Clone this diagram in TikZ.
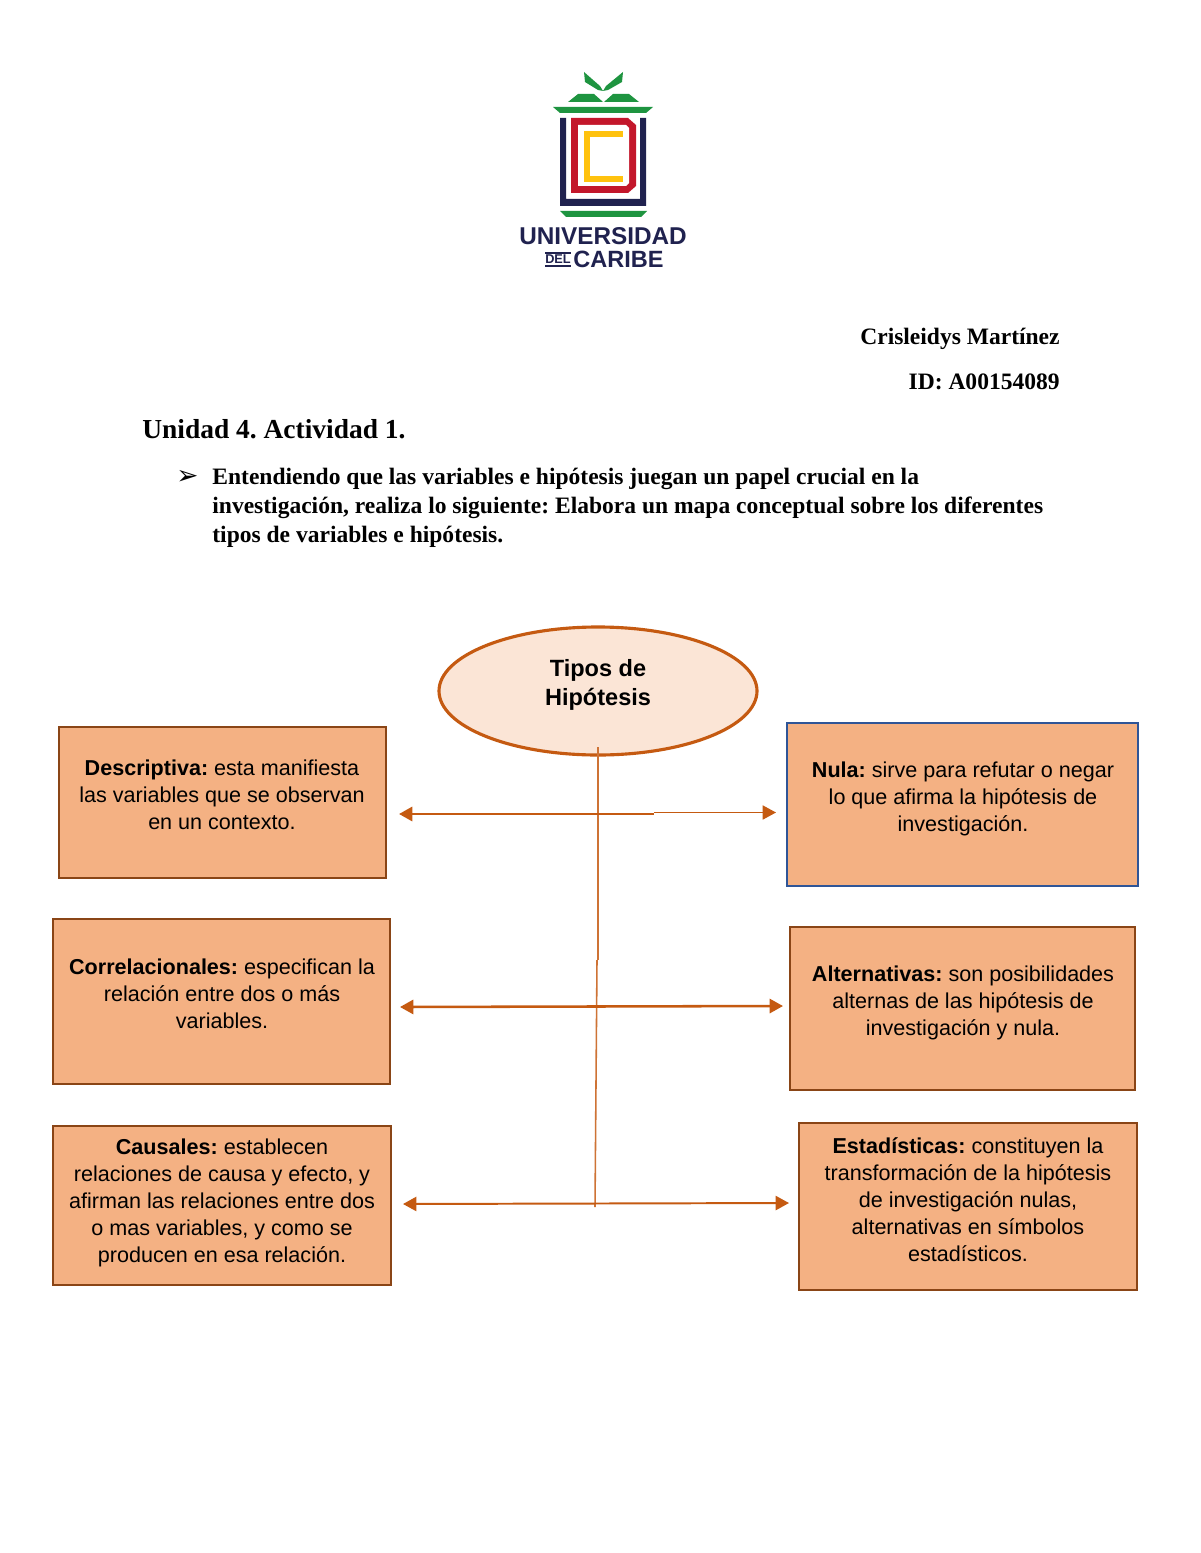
\documentclass[tikz,border=0pt]{standalone}
\usepackage{fontspec}
\setmainfont{Liberation Serif}
\setsansfont{Liberation Sans}
\newfontfamily\symfont{DejaVu Sans}
\usetikzlibrary{arrows.meta}
\AtBeginDocument{\frenchspacing}
\definecolor{boxfill}{HTML}{F4B183}
\definecolor{ellfill}{HTML}{FBE5D6}
\definecolor{orangeline}{HTML}{C55A11}
\definecolor{boxline}{HTML}{8A4516}
\definecolor{blueline}{HTML}{2F5597}
\definecolor{uninavy}{HTML}{20224F}
\definecolor{unigreen}{HTML}{1E9440}
\definecolor{unired}{HTML}{C3172B}
\definecolor{uniyellow}{HTML}{FFC20E}
\tikzset{
  x=0.51pt,y=-0.51pt,
  boxbase/.style={draw=boxline,fill=boxfill,line width=1.5pt,inner sep=0pt,outer sep=0pt},
  boxtext/.style={font=\sffamily\fontsize{11}{13.8}\selectfont,align=center,inner sep=0pt,text=black},
  serifline/.style={font=\bfseries\fontsize{12}{12}\selectfont,anchor=base west,inner sep=0pt},
  serifright/.style={font=\bfseries\fontsize{12}{12}\selectfont,anchor=base east,inner sep=0pt},
  trunk/.style={draw=orangeline!85!white,line width=0.8pt},
  link/.style={draw=orangeline,line width=1.3pt,{Triangle[length=6.8pt,width=7.2pt]}-{Triangle[length=6.8pt,width=7.2pt]}},
  linkthick/.style={draw=orangeline,line width=1.4pt,{Triangle[length=6.8pt,width=7.2pt]}-},
  linkthin/.style={draw=orangeline,line width=0.7pt,-{Triangle[length=6.8pt,width=7.2pt]}},
  logotext/.style={font=\sffamily\bfseries,text=uninavy,inner sep=0pt},
}
\newcommand{\boxat}[6]{%
  \node[boxbase,#6,anchor=north west,minimum width={(#3-#1)*0.51pt},minimum height={(#4-#2)*0.51pt}] (#5) at (#1,#2) {};}
\begin{document}
\begin{tikzpicture}
\useasboundingbox (0,0) rectangle (1200,1553);
\fill[white] (0,0) rectangle (1200,1553);
% logo
\fill[unigreen] (584,72) -- (600,86) -- (603,91) -- (598,90) -- (585,82) -- cycle;
\fill[unigreen] (623,72) -- (606,86) -- (603,91) -- (608,90) -- (622,82) -- cycle;
\fill[unigreen] (568,102) -- (578,94) -- (594,94) -- (603,102) -- cycle;
\fill[unigreen] (604,102) -- (613,94) -- (629,94) -- (639,102) -- cycle;
\fill[unigreen] (553,107) -- (653,107) -- (646,113) -- (560,113) -- cycle;
\fill[unigreen] (560,211) -- (647,211) -- (641,217) -- (566,217) -- cycle;
\fill[uninavy] (560,118) -- (566,118) -- (566,199) -- (640,199) -- (640,118) -- (646,118) -- (646,206) -- (560,206) -- cycle;
\fill[unired] (571,118) -- (628,118) -- (636,125) -- (636,186) -- (628,193) -- (571,193) -- cycle;
\fill[white] (578,125) -- (626,125) -- (629,128) -- (629,183) -- (626,186) -- (578,186) -- cycle;
\fill[uniyellow] (584,131) rectangle (623,137);
\fill[uniyellow] (584,131) rectangle (590,182);
\fill[uniyellow] (584,176) rectangle (623,182);
\node[logotext,font=\sffamily\bfseries\fontsize{12.4}{14}\selectfont] (uni) at (603,236) {UNIVERSIDAD};
\node[logotext,font=\sffamily\bfseries\fontsize{6.5}{7}\selectfont] (del) at (558,259) {DEL};
\node[logotext,font=\sffamily\bfseries\fontsize{12}{14}\selectfont,anchor=west] (car) at (573,259) {CARIBE};
\fill[uninavy] (545,265) rectangle (571,267);
\fill[uninavy] (545,252) rectangle (571,253.5);
% header
\node[serifright] (name) at (1060,344) {Crisleidys Martínez};
\node[serifright] (id) at (1060,389) {ID: A00154089};
\node[serifline,font=\bfseries\fontsize{14}{14}\selectfont] (title) at (142,438) {Unidad 4. Actividad 1.};
\node[anchor=base west,inner sep=0pt,font=\symfont\bfseries\fontsize{13.5}{13.5}\selectfont] (bullet) at (176,484) {➢};
\node[serifline] (l1) at (212,484) {Entendiendo que las variables e hipótesis juegan un papel crucial en la};
\node[serifline] (l2) at (212,513) {investigación, realiza lo siguiente: Elabora un mapa conceptual sobre los diferentes};
\node[serifline] (l3) at (212,542) {tipos de variables e hipótesis.};
% central ellipse
\draw[draw=orangeline,fill=ellfill,line width=1.6pt] (598,691) ellipse [x radius=159,y radius=64];
\coordinate (ell) at (598,691);
\node[inner sep=0pt,align=center,font=\sffamily\bfseries\fontsize{12}{15.2}\selectfont] (elltext) at (598,685) {Tipos de\\Hipótesis};
% boxes
\boxat{59}{727}{386}{878}{desc}{}
\boxat{787}{723}{1138}{886}{nula}{draw=blueline}
\boxat{53}{919}{390}{1084}{corr}{}
\boxat{790}{927}{1135}{1090}{alte}{}
\boxat{53}{1126}{391}{1285}{caus}{}
\boxat{799}{1123}{1137}{1290}{esta}{}
\node[boxtext] (desct) at (222,795) {\textbf{Descriptiva:} esta manifiesta\\las variables que se observan\\en un contexto.};
\node[boxtext] (nulat) at (963,798.5) {\textbf{Nula:} sirve para refutar o negar\\lo que afirma la hipótesis de\\investigación.};
\node[boxtext] (corrt) at (222,994) {\textbf{Correlacionales:} especifican la\\relación entre dos o más\\variables.};
\node[boxtext] (altet) at (963,1003) {\textbf{Alternativas:} son posibilidades\\alternas de las hipótesis de\\investigación y nula.};
\node[boxtext] (caust) at (222,1203) {\textbf{Causales:} establecen\\relaciones de causa y efecto, y\\afirman las relaciones entre dos\\o mas variables, y como se\\producen en esa relación.};
\node[boxtext] (estat) at (968,1200) {\textbf{Estadísticas:} constituyen la\\transformación de la hipótesis\\de investigación nulas,\\alternativas en símbolos\\estadísticos.};
% connectors
\coordinate (t0) at (598,747);
\coordinate (t1) at (598,960);
\coordinate (t2) at (597,960);
\coordinate (t3) at (595,1207);
\draw[trunk] (t0) -- (t1);
\draw[trunk] (t2) -- (t3);
\coordinate (a1l) at (399,814);
\coordinate (a1m) at (654,814);
\coordinate (a1n) at (654,812.5);
\coordinate (a1r) at (776,812.5);
\draw[linkthick] (a1l) -- (a1m);
\draw[linkthin] (a1n) -- (a1r);
\coordinate (a2l) at (400,1007);
\coordinate (a2r) at (783,1006);
\draw[link] (a2l) -- (a2r);
\coordinate (a3l) at (403,1204);
\coordinate (a3r) at (789,1203);
\draw[link,line width=1pt] (a3l) -- (a3r);
\end{tikzpicture}
\end{document}
